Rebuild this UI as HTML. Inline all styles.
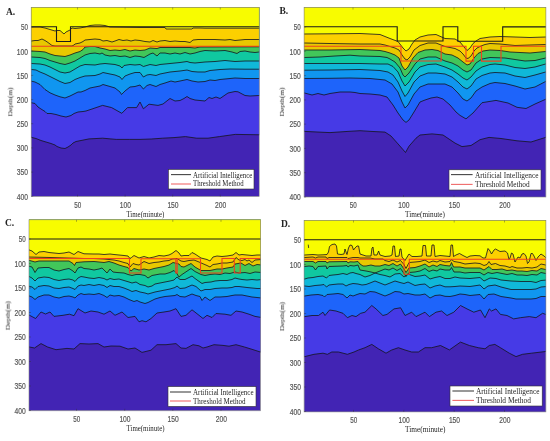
<!DOCTYPE html><html><head><meta charset="utf-8"><style>html,body{margin:0;padding:0;background:#fff;width:550px;height:441px;overflow:hidden}svg{display:block}.t{font-family:"Liberation Sans",sans-serif;fill:#555;stroke:#555;stroke-width:0.2px}text{opacity:0.99}.s{font-family:"Liberation Serif",serif;fill:#222}</style></head><body>
<svg width="550" height="441" viewBox="0 0 550 441">
<rect width="550" height="441" fill="#fff"/>
<filter id="gs" filterUnits="userSpaceOnUse" x="-600" y="-600" width="1800" height="1800"><feColorMatrix type="saturate" values="0"/></filter>
<clipPath id="cA"><rect x="31.2" y="7.5" width="228.0" height="189.1"/></clipPath>
<g clip-path="url(#cA)">
<rect x="31.2" y="7.5" width="228.0" height="189.1" fill="#4224b4"/>
<polygon points="30.2,137.0 36.0,138.5 41.0,140.5 46.0,142.0 51.0,143.5 55.0,145.0 57.0,146.5 61.0,148.0 65.0,148.5 68.0,147.0 71.0,145.0 73.0,143.0 76.0,141.5 81.0,140.5 86.0,139.5 89.0,138.9 102.6,138.2 116.2,139.4 129.8,139.4 140.0,139.4 151.3,139.0 162.7,138.2 174.0,137.6 185.4,136.6 196.7,138.2 208.0,138.2 219.4,136.6 235.2,134.4 260.2,134.8 260.2,6.5 30.2,6.5" fill="#463ae6"/>
<polygon points="30.2,102.5 35.0,103.5 38.0,107.0 41.0,109.0 45.0,111.5 47.0,113.5 51.0,113.5 56.0,114.5 61.0,116.0 66.0,117.0 71.0,115.5 74.0,113.5 78.0,112.0 83.0,111.5 86.0,111.0 92.0,109.0 102.6,105.4 111.6,107.6 121.8,113.3 127.5,107.6 136.6,107.6 140.0,102.0 143.4,108.8 149.0,104.2 158.0,105.4 163.0,104.0 170.0,98.5 175.0,101.0 180.0,100.5 184.0,98.5 187.0,96.5 190.0,98.5 195.0,100.0 200.0,100.5 205.0,101.0 209.0,97.5 212.0,98.5 216.0,97.0 220.0,98.5 228.0,93.0 235.0,91.5 238.0,91.8 245.0,95.5 250.0,96.0 259.0,95.5 260.2,95.5 260.2,6.5 30.2,6.5" fill="#1e64fa"/>
<polygon points="30.2,81.2 31.5,81.2 35.0,82.0 40.0,84.5 45.0,89.5 50.0,92.8 55.0,95.0 60.0,96.8 65.0,98.0 70.0,96.0 74.0,94.0 78.0,92.0 81.0,92.0 85.0,90.5 90.0,88.0 95.0,87.0 100.0,86.0 103.0,84.5 110.0,86.5 115.0,88.0 120.0,92.0 121.5,94.5 125.0,91.0 130.0,87.0 135.0,86.5 140.0,85.0 143.4,89.0 147.0,85.5 150.0,84.5 156.0,86.5 160.0,84.5 165.0,83.0 171.0,81.0 175.0,82.0 180.0,81.0 187.0,79.5 192.0,81.0 198.0,82.0 205.0,81.5 210.0,80.0 215.0,80.5 220.0,79.5 225.0,79.0 235.0,78.0 245.0,78.5 259.0,78.5 260.2,78.5 260.2,6.5 30.2,6.5" fill="#1096f0"/>
<polygon points="30.2,69.5 31.5,69.5 36.0,70.0 40.0,72.0 45.0,74.0 50.0,76.5 55.0,79.0 60.0,81.5 65.0,83.5 70.0,82.5 75.0,79.5 80.0,77.5 85.0,76.0 95.0,75.5 100.0,74.0 103.0,72.5 110.0,74.0 115.0,75.0 120.0,77.0 122.0,79.5 125.0,76.0 130.0,74.0 135.0,72.5 140.0,72.5 143.4,77.0 147.0,75.0 150.0,74.5 156.0,75.5 160.0,74.0 165.0,73.0 170.0,72.0 175.0,71.5 180.0,71.0 187.0,70.0 192.0,71.5 198.0,72.0 205.0,72.0 210.0,70.5 215.0,70.0 220.0,69.5 230.0,69.0 245.0,69.2 260.2,69.2 260.2,6.5 30.2,6.5" fill="#10b8d8"/>
<polygon points="30.2,63.5 31.5,63.5 40.0,64.0 45.0,65.0 50.0,67.0 55.0,69.5 60.0,72.0 65.0,73.0 70.0,72.0 75.0,69.0 80.0,66.0 85.0,64.5 95.0,65.0 100.0,64.0 105.0,63.5 110.0,64.0 115.0,64.5 120.0,66.0 122.0,68.0 124.0,65.5 130.0,64.5 135.0,65.0 140.0,64.5 143.4,66.5 150.0,64.5 156.0,65.5 160.0,64.5 170.0,63.5 180.0,62.5 187.0,61.5 190.0,62.5 195.0,63.0 205.0,62.0 215.0,61.5 225.0,60.5 235.0,61.5 245.0,61.0 259.0,61.0 260.2,61.0 260.2,6.5 30.2,6.5" fill="#10c8a0"/>
<polygon points="30.2,57.0 31.5,57.0 40.0,57.5 45.0,58.5 50.0,60.5 55.0,62.0 60.0,63.5 65.0,64.5 70.0,63.0 75.0,61.0 80.0,58.0 85.0,55.0 90.0,53.5 95.0,53.0 100.0,54.0 102.0,53.0 105.0,55.0 110.0,56.0 115.0,55.5 120.0,56.5 125.0,56.0 130.0,57.5 135.0,56.0 140.0,56.5 144.0,57.5 150.0,54.0 153.0,53.0 157.0,56.0 160.0,53.0 165.0,53.0 170.0,54.0 175.0,53.0 180.0,54.0 185.0,52.5 190.0,54.0 195.0,53.0 200.0,51.5 205.0,50.5 215.0,51.0 225.0,50.5 232.0,52.0 237.0,53.5 240.0,51.5 245.0,51.0 250.0,52.0 255.0,52.5 259.0,52.0 260.2,52.0 260.2,6.5 30.2,6.5" fill="#42c65a"/>
<polygon points="30.2,51.0 31.5,51.0 40.0,51.5 45.0,52.0 50.0,54.0 55.0,55.5 60.0,56.0 65.0,56.5 70.0,55.0 75.0,53.0 80.0,51.5 83.0,49.5 85.0,47.0 90.0,46.5 95.0,46.5 100.0,48.0 105.0,49.0 110.0,50.5 115.0,50.0 120.0,50.5 125.0,49.5 130.0,51.0 135.0,50.0 140.0,50.5 145.0,50.0 150.0,48.0 157.0,48.5 160.0,47.5 190.0,47.5 195.0,48.0 200.0,47.0 259.0,46.8 260.2,46.8 260.2,6.5 30.2,6.5" fill="#e8c800"/>
<polygon points="30.2,41.0 31.5,41.0 35.0,40.5 38.0,40.5 42.0,39.0 45.0,40.5 48.0,42.5 50.0,44.0 52.0,45.5 55.0,46.0 72.0,46.0 74.0,45.0 75.0,44.0 80.0,43.0 83.0,41.5 85.0,40.0 90.0,39.5 95.0,39.0 100.0,39.5 103.0,41.0 107.0,40.5 112.0,42.0 115.0,41.0 119.0,39.5 123.0,40.5 127.0,40.0 131.0,41.0 135.0,40.0 140.0,40.5 145.0,41.5 150.0,42.0 153.0,40.5 157.0,42.0 160.0,41.0 165.0,40.5 170.0,41.5 175.0,41.0 180.0,41.5 185.0,41.5 190.0,42.5 193.0,40.0 198.0,39.5 205.0,39.5 215.0,39.5 225.0,40.0 230.0,39.5 235.0,40.5 245.0,39.5 259.0,39.5 260.2,39.5 260.2,6.5 30.2,6.5" fill="#fcd000"/>
<polygon points="30.2,27.0 31.5,27.0 40.0,27.0 45.0,28.0 50.0,29.5 55.0,31.0 56.5,30.5 60.0,30.5 64.0,34.0 66.0,32.0 68.0,31.0 70.0,30.0 72.0,28.0 75.0,28.5 80.0,28.0 85.0,27.0 90.0,25.5 95.0,25.0 100.0,25.0 105.0,25.5 110.0,27.0 140.0,27.5 150.0,27.5 165.0,27.5 166.0,29.0 192.0,29.0 193.0,28.0 200.0,28.0 205.0,28.2 259.0,28.2 260.2,28.2 260.2,6.5 30.2,6.5" fill="#f8fc00"/>
<polyline points="30.2,27.0 31.5,27.0 40.0,27.0 45.0,28.0 50.0,29.5 55.0,31.0 56.5,30.5 60.0,30.5 64.0,34.0 66.0,32.0 68.0,31.0 70.0,30.0 72.0,28.0 75.0,28.5 80.0,28.0 85.0,27.0 90.0,25.5 95.0,25.0 100.0,25.0 105.0,25.5 110.0,27.0 140.0,27.5 150.0,27.5 165.0,27.5 166.0,29.0 192.0,29.0 193.0,28.0 200.0,28.0 205.0,28.2 259.0,28.2 260.2,28.2" fill="none" stroke="#15151f" stroke-opacity="0.9" stroke-width="0.90" stroke-linejoin="round"/>
<polyline points="30.2,41.0 31.5,41.0 35.0,40.5 38.0,40.5 42.0,39.0 45.0,40.5 48.0,42.5 50.0,44.0 52.0,45.5 55.0,46.0 72.0,46.0 74.0,45.0 75.0,44.0 80.0,43.0 83.0,41.5 85.0,40.0 90.0,39.5 95.0,39.0 100.0,39.5 103.0,41.0 107.0,40.5 112.0,42.0 115.0,41.0 119.0,39.5 123.0,40.5 127.0,40.0 131.0,41.0 135.0,40.0 140.0,40.5 145.0,41.5 150.0,42.0 153.0,40.5 157.0,42.0 160.0,41.0 165.0,40.5 170.0,41.5 175.0,41.0 180.0,41.5 185.0,41.5 190.0,42.5 193.0,40.0 198.0,39.5 205.0,39.5 215.0,39.5 225.0,40.0 230.0,39.5 235.0,40.5 245.0,39.5 259.0,39.5 260.2,39.5" fill="none" stroke="#15151f" stroke-opacity="0.9" stroke-width="0.90" stroke-linejoin="round"/>
<polyline points="30.2,51.0 31.5,51.0 40.0,51.5 45.0,52.0 50.0,54.0 55.0,55.5 60.0,56.0 65.0,56.5 70.0,55.0 75.0,53.0 80.0,51.5 83.0,49.5 85.0,47.0 90.0,46.5 95.0,46.5 100.0,48.0 105.0,49.0 110.0,50.5 115.0,50.0 120.0,50.5 125.0,49.5 130.0,51.0 135.0,50.0 140.0,50.5 145.0,50.0 150.0,48.0 157.0,48.5 160.0,47.5 190.0,47.5 195.0,48.0 200.0,47.0 259.0,46.8 260.2,46.8" fill="none" stroke="#15151f" stroke-opacity="0.9" stroke-width="0.90" stroke-linejoin="round"/>
<polyline points="30.2,57.0 31.5,57.0 40.0,57.5 45.0,58.5 50.0,60.5 55.0,62.0 60.0,63.5 65.0,64.5 70.0,63.0 75.0,61.0 80.0,58.0 85.0,55.0 90.0,53.5 95.0,53.0 100.0,54.0 102.0,53.0 105.0,55.0 110.0,56.0 115.0,55.5 120.0,56.5 125.0,56.0 130.0,57.5 135.0,56.0 140.0,56.5 144.0,57.5 150.0,54.0 153.0,53.0 157.0,56.0 160.0,53.0 165.0,53.0 170.0,54.0 175.0,53.0 180.0,54.0 185.0,52.5 190.0,54.0 195.0,53.0 200.0,51.5 205.0,50.5 215.0,51.0 225.0,50.5 232.0,52.0 237.0,53.5 240.0,51.5 245.0,51.0 250.0,52.0 255.0,52.5 259.0,52.0 260.2,52.0" fill="none" stroke="#15151f" stroke-opacity="0.9" stroke-width="0.90" stroke-linejoin="round"/>
<polyline points="30.2,63.5 31.5,63.5 40.0,64.0 45.0,65.0 50.0,67.0 55.0,69.5 60.0,72.0 65.0,73.0 70.0,72.0 75.0,69.0 80.0,66.0 85.0,64.5 95.0,65.0 100.0,64.0 105.0,63.5 110.0,64.0 115.0,64.5 120.0,66.0 122.0,68.0 124.0,65.5 130.0,64.5 135.0,65.0 140.0,64.5 143.4,66.5 150.0,64.5 156.0,65.5 160.0,64.5 170.0,63.5 180.0,62.5 187.0,61.5 190.0,62.5 195.0,63.0 205.0,62.0 215.0,61.5 225.0,60.5 235.0,61.5 245.0,61.0 259.0,61.0 260.2,61.0" fill="none" stroke="#15151f" stroke-opacity="0.9" stroke-width="0.90" stroke-linejoin="round"/>
<polyline points="30.2,69.5 31.5,69.5 36.0,70.0 40.0,72.0 45.0,74.0 50.0,76.5 55.0,79.0 60.0,81.5 65.0,83.5 70.0,82.5 75.0,79.5 80.0,77.5 85.0,76.0 95.0,75.5 100.0,74.0 103.0,72.5 110.0,74.0 115.0,75.0 120.0,77.0 122.0,79.5 125.0,76.0 130.0,74.0 135.0,72.5 140.0,72.5 143.4,77.0 147.0,75.0 150.0,74.5 156.0,75.5 160.0,74.0 165.0,73.0 170.0,72.0 175.0,71.5 180.0,71.0 187.0,70.0 192.0,71.5 198.0,72.0 205.0,72.0 210.0,70.5 215.0,70.0 220.0,69.5 230.0,69.0 245.0,69.2 260.2,69.2" fill="none" stroke="#15151f" stroke-opacity="0.9" stroke-width="0.90" stroke-linejoin="round"/>
<polyline points="30.2,81.2 31.5,81.2 35.0,82.0 40.0,84.5 45.0,89.5 50.0,92.8 55.0,95.0 60.0,96.8 65.0,98.0 70.0,96.0 74.0,94.0 78.0,92.0 81.0,92.0 85.0,90.5 90.0,88.0 95.0,87.0 100.0,86.0 103.0,84.5 110.0,86.5 115.0,88.0 120.0,92.0 121.5,94.5 125.0,91.0 130.0,87.0 135.0,86.5 140.0,85.0 143.4,89.0 147.0,85.5 150.0,84.5 156.0,86.5 160.0,84.5 165.0,83.0 171.0,81.0 175.0,82.0 180.0,81.0 187.0,79.5 192.0,81.0 198.0,82.0 205.0,81.5 210.0,80.0 215.0,80.5 220.0,79.5 225.0,79.0 235.0,78.0 245.0,78.5 259.0,78.5 260.2,78.5" fill="none" stroke="#15151f" stroke-opacity="0.9" stroke-width="0.90" stroke-linejoin="round"/>
<polyline points="30.2,102.5 35.0,103.5 38.0,107.0 41.0,109.0 45.0,111.5 47.0,113.5 51.0,113.5 56.0,114.5 61.0,116.0 66.0,117.0 71.0,115.5 74.0,113.5 78.0,112.0 83.0,111.5 86.0,111.0 92.0,109.0 102.6,105.4 111.6,107.6 121.8,113.3 127.5,107.6 136.6,107.6 140.0,102.0 143.4,108.8 149.0,104.2 158.0,105.4 163.0,104.0 170.0,98.5 175.0,101.0 180.0,100.5 184.0,98.5 187.0,96.5 190.0,98.5 195.0,100.0 200.0,100.5 205.0,101.0 209.0,97.5 212.0,98.5 216.0,97.0 220.0,98.5 228.0,93.0 235.0,91.5 238.0,91.8 245.0,95.5 250.0,96.0 259.0,95.5 260.2,95.5" fill="none" stroke="#15151f" stroke-opacity="0.9" stroke-width="0.90" stroke-linejoin="round"/>
<polyline points="30.2,137.0 36.0,138.5 41.0,140.5 46.0,142.0 51.0,143.5 55.0,145.0 57.0,146.5 61.0,148.0 65.0,148.5 68.0,147.0 71.0,145.0 73.0,143.0 76.0,141.5 81.0,140.5 86.0,139.5 89.0,138.9 102.6,138.2 116.2,139.4 129.8,139.4 140.0,139.4 151.3,139.0 162.7,138.2 174.0,137.6 185.4,136.6 196.7,138.2 208.0,138.2 219.4,136.6 235.2,134.4 260.2,134.8" fill="none" stroke="#15151f" stroke-opacity="0.9" stroke-width="0.90" stroke-linejoin="round"/>
<polyline points="31.0,46.2 260.0,46.2" fill="none" stroke="#f0401e" stroke-width="1.1"/>
<polyline points="31.0,26.8 56.5,26.8 56.5,41.5 70.5,41.5 70.5,26.8 260.0,26.8" fill="none" stroke="#1a1a1a" stroke-width="1.1"/>
</g>
<rect x="31.2" y="7.5" width="228.0" height="189.1" fill="none" stroke="#808080" stroke-width="0.6"/>
<rect x="168.4" y="169.4" width="85.6" height="19.6" fill="#fff" stroke="#333" stroke-width="0.6"/>
<line x1="171.0" y1="174.6" x2="191.0" y2="174.6" stroke="#444" stroke-width="1.1"/>
<line x1="171.0" y1="184.0" x2="191.0" y2="184.0" stroke="#f06a6a" stroke-width="1.1"/>
<text filter="url(#gs)" class="s" x="193.0" y="177.8" font-size="7.2" textLength="59.4" lengthAdjust="spacingAndGlyphs">Artificial Intelligence</text>
<text filter="url(#gs)" class="s" x="193.0" y="186.4" font-size="7.2" textLength="50.6" lengthAdjust="spacingAndGlyphs">Threshold Method</text>
<text filter="url(#gs)" class="t" x="21.0" y="30.3" font-size="8.5" textLength="7.0" lengthAdjust="spacingAndGlyphs">50</text>
<line x1="31.2" y1="27.0" x2="33.2" y2="27.0" stroke="#333" stroke-width="0.4"/>
<text filter="url(#gs)" class="t" x="16.8" y="54.5" font-size="8.5" textLength="11.2" lengthAdjust="spacingAndGlyphs">100</text>
<line x1="31.2" y1="51.2" x2="33.2" y2="51.2" stroke="#333" stroke-width="0.4"/>
<text filter="url(#gs)" class="t" x="16.8" y="78.7" font-size="8.5" textLength="11.2" lengthAdjust="spacingAndGlyphs">150</text>
<line x1="31.2" y1="75.4" x2="33.2" y2="75.4" stroke="#333" stroke-width="0.4"/>
<text filter="url(#gs)" class="t" x="16.8" y="102.9" font-size="8.5" textLength="11.2" lengthAdjust="spacingAndGlyphs">200</text>
<line x1="31.2" y1="99.6" x2="33.2" y2="99.6" stroke="#333" stroke-width="0.4"/>
<text filter="url(#gs)" class="t" x="16.8" y="127.0" font-size="8.5" textLength="11.2" lengthAdjust="spacingAndGlyphs">250</text>
<line x1="31.2" y1="123.7" x2="33.2" y2="123.7" stroke="#333" stroke-width="0.4"/>
<text filter="url(#gs)" class="t" x="16.8" y="151.2" font-size="8.5" textLength="11.2" lengthAdjust="spacingAndGlyphs">300</text>
<line x1="31.2" y1="147.9" x2="33.2" y2="147.9" stroke="#333" stroke-width="0.4"/>
<text filter="url(#gs)" class="t" x="16.8" y="175.4" font-size="8.5" textLength="11.2" lengthAdjust="spacingAndGlyphs">350</text>
<line x1="31.2" y1="172.1" x2="33.2" y2="172.1" stroke="#333" stroke-width="0.4"/>
<text filter="url(#gs)" class="t" x="16.8" y="199.6" font-size="8.5" textLength="11.2" lengthAdjust="spacingAndGlyphs">400</text>
<line x1="31.2" y1="196.3" x2="33.2" y2="196.3" stroke="#333" stroke-width="0.4"/>
<text filter="url(#gs)" class="t" x="74.3" y="207.6" font-size="8.5" textLength="7.0" lengthAdjust="spacingAndGlyphs">50</text>
<line x1="77.5" y1="196.6" x2="77.5" y2="194.6" stroke="#333" stroke-width="0.4"/>
<line x1="77.5" y1="7.5" x2="77.5" y2="9.5" stroke="#333" stroke-width="0.4"/>
<text filter="url(#gs)" class="t" x="119.8" y="207.6" font-size="8.5" textLength="11.2" lengthAdjust="spacingAndGlyphs">100</text>
<line x1="125.1" y1="196.6" x2="125.1" y2="194.6" stroke="#333" stroke-width="0.4"/>
<line x1="125.1" y1="7.5" x2="125.1" y2="9.5" stroke="#333" stroke-width="0.4"/>
<text filter="url(#gs)" class="t" x="167.4" y="207.6" font-size="8.5" textLength="11.2" lengthAdjust="spacingAndGlyphs">150</text>
<line x1="172.7" y1="196.6" x2="172.7" y2="194.6" stroke="#333" stroke-width="0.4"/>
<line x1="172.7" y1="7.5" x2="172.7" y2="9.5" stroke="#333" stroke-width="0.4"/>
<text filter="url(#gs)" class="t" x="215.0" y="207.6" font-size="8.5" textLength="11.2" lengthAdjust="spacingAndGlyphs">200</text>
<line x1="220.3" y1="196.6" x2="220.3" y2="194.6" stroke="#333" stroke-width="0.4"/>
<line x1="220.3" y1="7.5" x2="220.3" y2="9.5" stroke="#333" stroke-width="0.4"/>
<text filter="url(#gs)" class="s" x="126.4" y="217.3" font-size="8.0" textLength="38.0" lengthAdjust="spacingAndGlyphs" fill="#3a3a3a">Time(minute)</text>
<text filter="url(#gs)" class="s" transform="translate(12.3,101.8) rotate(-90)" x="0" y="0" font-size="6.9" fill="#3a3a3a" text-anchor="middle" textLength="29.0" lengthAdjust="spacingAndGlyphs">Depth(m)</text>
<text filter="url(#gs)" class="s" x="6.0" y="15.2" font-size="9.5" font-weight="bold" fill="#111">A.</text>
<clipPath id="cB"><rect x="304.1" y="7.5" width="241.8" height="189.5"/></clipPath>
<g clip-path="url(#cB)">
<rect x="304.1" y="7.5" width="241.8" height="189.5" fill="#4224b4"/>
<polygon points="303.1,131.4 304.5,131.4 317.0,132.0 330.0,132.6 348.0,131.4 360.0,130.7 371.0,131.4 385.0,132.1 391.0,136.0 398.0,143.9 403.0,149.6 405.5,152.5 409.0,146.2 416.0,138.2 420.0,135.0 432.0,133.9 443.0,135.0 455.0,143.1 462.0,146.6 471.0,145.5 480.0,139.7 489.0,137.4 501.0,138.5 517.0,140.8 531.0,142.0 545.6,137.4 546.9,137.4 546.9,6.5 303.1,6.5" fill="#463ae6"/>
<polygon points="303.1,93.0 304.5,93.0 312.0,95.0 318.0,93.5 324.0,95.0 330.0,93.5 340.0,92.0 350.0,92.0 355.0,92.5 360.0,93.5 370.0,94.0 380.0,95.0 387.0,97.0 393.0,105.0 398.0,113.0 403.0,120.0 406.0,122.4 409.0,120.0 414.0,112.0 420.0,102.0 425.0,100.0 431.0,98.0 437.0,97.0 443.0,99.0 450.0,105.0 456.0,112.0 460.0,115.4 466.0,118.9 473.0,113.0 482.0,102.7 496.0,100.4 508.0,103.0 517.0,107.3 526.0,108.5 535.0,104.0 545.6,99.3 546.9,99.3 546.9,6.5 303.1,6.5" fill="#1e64fa"/>
<polygon points="303.1,78.5 304.5,78.5 330.0,78.3 350.0,78.0 370.0,78.5 385.0,80.0 392.0,84.0 398.0,92.0 402.0,102.0 405.0,108.0 408.0,105.0 414.0,94.0 420.0,87.0 428.0,84.0 436.0,84.0 445.0,84.0 452.0,87.0 458.0,93.0 463.0,99.0 467.0,101.0 471.0,98.0 476.0,91.0 482.0,87.0 490.0,83.5 495.0,82.5 505.0,83.5 515.0,86.0 525.0,89.0 535.0,87.0 545.6,81.5 546.9,81.5 546.9,6.5 303.1,6.5" fill="#1096f0"/>
<polygon points="303.1,70.2 304.5,70.2 330.0,70.0 360.0,69.5 380.0,70.5 388.0,72.0 393.0,75.0 398.0,82.0 402.0,91.0 405.0,96.5 408.0,93.0 414.0,82.0 420.0,76.0 428.0,73.0 436.0,73.0 445.0,74.0 452.0,77.0 458.0,82.0 463.0,87.0 467.0,89.0 471.0,86.0 476.0,79.0 482.0,75.5 490.0,73.0 495.0,72.5 505.0,73.0 515.0,76.0 525.0,77.5 535.0,75.0 545.6,72.0 546.9,72.0 546.9,6.5 303.1,6.5" fill="#10b8d8"/>
<polygon points="303.1,63.5 304.5,63.5 330.0,63.5 360.0,63.5 380.0,64.0 388.0,64.0 393.0,66.5 398.0,72.0 402.0,81.0 405.0,86.0 409.0,82.0 415.0,72.0 420.0,67.0 428.0,64.5 436.0,64.0 445.0,67.0 452.0,70.0 458.0,74.0 463.0,78.0 467.0,80.0 471.0,77.0 476.0,71.0 482.0,67.0 490.0,64.5 495.0,64.0 505.0,65.0 515.0,67.5 525.0,68.5 535.0,67.0 545.6,64.0 546.9,64.0 546.9,6.5 303.1,6.5" fill="#10c8a0"/>
<polygon points="303.1,57.5 304.5,57.5 320.0,57.0 335.0,56.0 350.0,55.2 360.0,56.0 380.0,56.5 387.0,57.5 390.0,59.0 395.0,62.0 400.0,68.0 403.0,75.0 405.0,77.0 409.0,73.0 415.0,64.0 420.0,59.0 428.0,57.0 436.0,57.0 445.0,61.0 452.0,63.0 458.0,66.0 463.0,70.0 467.0,72.0 471.0,70.0 476.0,63.0 482.0,59.0 490.0,57.5 505.0,58.0 515.0,59.5 525.0,61.0 535.0,60.5 545.6,58.0 546.9,58.0 546.9,6.5 303.1,6.5" fill="#42c65a"/>
<polygon points="303.1,50.0 304.5,50.0 330.0,50.0 360.0,49.5 380.0,50.5 385.0,51.5 390.0,53.0 395.0,55.0 399.0,58.0 402.0,66.0 405.0,70.0 408.0,67.0 413.0,58.0 418.0,52.5 425.0,50.0 432.0,49.5 438.0,50.5 445.0,54.0 452.0,55.0 458.0,58.0 463.0,62.0 467.0,65.0 470.0,64.0 474.0,58.0 478.0,53.5 483.0,51.0 490.0,50.0 500.0,50.5 510.0,52.0 520.0,52.5 530.0,53.0 545.6,51.5 546.9,51.5 546.9,6.5 303.1,6.5" fill="#e8c800"/>
<polygon points="303.1,43.0 304.5,43.0 330.0,43.5 360.0,44.0 380.0,44.0 385.0,45.0 390.0,46.5 395.0,48.0 399.0,50.0 402.0,55.0 405.0,59.0 407.0,60.0 410.0,57.0 414.0,50.0 420.0,45.5 428.0,43.0 436.0,43.0 445.0,46.5 450.0,47.5 455.0,48.5 460.0,51.0 463.0,54.0 466.0,58.0 468.0,58.5 471.0,56.0 474.0,51.0 477.0,48.0 481.0,46.0 485.0,44.5 490.0,43.5 500.0,44.0 515.0,45.5 530.0,45.0 545.6,44.5 546.9,44.5 546.9,6.5 303.1,6.5" fill="#fcd000"/>
<polygon points="303.1,34.0 304.5,34.0 330.0,33.8 360.0,33.5 380.0,34.5 390.0,38.5 398.0,41.5 403.0,48.0 406.0,51.0 409.0,49.0 412.0,44.0 415.0,40.0 420.0,37.0 428.0,35.0 436.0,34.5 445.0,38.5 455.0,39.0 460.0,42.0 464.0,47.0 467.0,50.5 470.0,48.0 473.0,43.5 476.0,41.0 480.0,38.5 490.0,37.0 500.0,36.5 515.0,37.0 530.0,37.5 545.6,37.0 546.9,37.0 546.9,6.5 303.1,6.5" fill="#f8fc00"/>
<polyline points="303.1,34.0 304.5,34.0 330.0,33.8 360.0,33.5 380.0,34.5 390.0,38.5 398.0,41.5 403.0,48.0 406.0,51.0 409.0,49.0 412.0,44.0 415.0,40.0 420.0,37.0 428.0,35.0 436.0,34.5 445.0,38.5 455.0,39.0 460.0,42.0 464.0,47.0 467.0,50.5 470.0,48.0 473.0,43.5 476.0,41.0 480.0,38.5 490.0,37.0 500.0,36.5 515.0,37.0 530.0,37.5 545.6,37.0 546.9,37.0" fill="none" stroke="#15151f" stroke-opacity="0.9" stroke-width="0.90" stroke-linejoin="round"/>
<polyline points="303.1,43.0 304.5,43.0 330.0,43.5 360.0,44.0 380.0,44.0 385.0,45.0 390.0,46.5 395.0,48.0 399.0,50.0 402.0,55.0 405.0,59.0 407.0,60.0 410.0,57.0 414.0,50.0 420.0,45.5 428.0,43.0 436.0,43.0 445.0,46.5 450.0,47.5 455.0,48.5 460.0,51.0 463.0,54.0 466.0,58.0 468.0,58.5 471.0,56.0 474.0,51.0 477.0,48.0 481.0,46.0 485.0,44.5 490.0,43.5 500.0,44.0 515.0,45.5 530.0,45.0 545.6,44.5 546.9,44.5" fill="none" stroke="#15151f" stroke-opacity="0.9" stroke-width="0.90" stroke-linejoin="round"/>
<polyline points="303.1,50.0 304.5,50.0 330.0,50.0 360.0,49.5 380.0,50.5 385.0,51.5 390.0,53.0 395.0,55.0 399.0,58.0 402.0,66.0 405.0,70.0 408.0,67.0 413.0,58.0 418.0,52.5 425.0,50.0 432.0,49.5 438.0,50.5 445.0,54.0 452.0,55.0 458.0,58.0 463.0,62.0 467.0,65.0 470.0,64.0 474.0,58.0 478.0,53.5 483.0,51.0 490.0,50.0 500.0,50.5 510.0,52.0 520.0,52.5 530.0,53.0 545.6,51.5 546.9,51.5" fill="none" stroke="#15151f" stroke-opacity="0.9" stroke-width="0.90" stroke-linejoin="round"/>
<polyline points="303.1,57.5 304.5,57.5 320.0,57.0 335.0,56.0 350.0,55.2 360.0,56.0 380.0,56.5 387.0,57.5 390.0,59.0 395.0,62.0 400.0,68.0 403.0,75.0 405.0,77.0 409.0,73.0 415.0,64.0 420.0,59.0 428.0,57.0 436.0,57.0 445.0,61.0 452.0,63.0 458.0,66.0 463.0,70.0 467.0,72.0 471.0,70.0 476.0,63.0 482.0,59.0 490.0,57.5 505.0,58.0 515.0,59.5 525.0,61.0 535.0,60.5 545.6,58.0 546.9,58.0" fill="none" stroke="#15151f" stroke-opacity="0.9" stroke-width="0.90" stroke-linejoin="round"/>
<polyline points="303.1,63.5 304.5,63.5 330.0,63.5 360.0,63.5 380.0,64.0 388.0,64.0 393.0,66.5 398.0,72.0 402.0,81.0 405.0,86.0 409.0,82.0 415.0,72.0 420.0,67.0 428.0,64.5 436.0,64.0 445.0,67.0 452.0,70.0 458.0,74.0 463.0,78.0 467.0,80.0 471.0,77.0 476.0,71.0 482.0,67.0 490.0,64.5 495.0,64.0 505.0,65.0 515.0,67.5 525.0,68.5 535.0,67.0 545.6,64.0 546.9,64.0" fill="none" stroke="#15151f" stroke-opacity="0.9" stroke-width="0.90" stroke-linejoin="round"/>
<polyline points="303.1,70.2 304.5,70.2 330.0,70.0 360.0,69.5 380.0,70.5 388.0,72.0 393.0,75.0 398.0,82.0 402.0,91.0 405.0,96.5 408.0,93.0 414.0,82.0 420.0,76.0 428.0,73.0 436.0,73.0 445.0,74.0 452.0,77.0 458.0,82.0 463.0,87.0 467.0,89.0 471.0,86.0 476.0,79.0 482.0,75.5 490.0,73.0 495.0,72.5 505.0,73.0 515.0,76.0 525.0,77.5 535.0,75.0 545.6,72.0 546.9,72.0" fill="none" stroke="#15151f" stroke-opacity="0.9" stroke-width="0.90" stroke-linejoin="round"/>
<polyline points="303.1,78.5 304.5,78.5 330.0,78.3 350.0,78.0 370.0,78.5 385.0,80.0 392.0,84.0 398.0,92.0 402.0,102.0 405.0,108.0 408.0,105.0 414.0,94.0 420.0,87.0 428.0,84.0 436.0,84.0 445.0,84.0 452.0,87.0 458.0,93.0 463.0,99.0 467.0,101.0 471.0,98.0 476.0,91.0 482.0,87.0 490.0,83.5 495.0,82.5 505.0,83.5 515.0,86.0 525.0,89.0 535.0,87.0 545.6,81.5 546.9,81.5" fill="none" stroke="#15151f" stroke-opacity="0.9" stroke-width="0.90" stroke-linejoin="round"/>
<polyline points="303.1,93.0 304.5,93.0 312.0,95.0 318.0,93.5 324.0,95.0 330.0,93.5 340.0,92.0 350.0,92.0 355.0,92.5 360.0,93.5 370.0,94.0 380.0,95.0 387.0,97.0 393.0,105.0 398.0,113.0 403.0,120.0 406.0,122.4 409.0,120.0 414.0,112.0 420.0,102.0 425.0,100.0 431.0,98.0 437.0,97.0 443.0,99.0 450.0,105.0 456.0,112.0 460.0,115.4 466.0,118.9 473.0,113.0 482.0,102.7 496.0,100.4 508.0,103.0 517.0,107.3 526.0,108.5 535.0,104.0 545.6,99.3 546.9,99.3" fill="none" stroke="#15151f" stroke-opacity="0.9" stroke-width="0.90" stroke-linejoin="round"/>
<polyline points="303.1,131.4 304.5,131.4 317.0,132.0 330.0,132.6 348.0,131.4 360.0,130.7 371.0,131.4 385.0,132.1 391.0,136.0 398.0,143.9 403.0,149.6 405.5,152.5 409.0,146.2 416.0,138.2 420.0,135.0 432.0,133.9 443.0,135.0 455.0,143.1 462.0,146.6 471.0,145.5 480.0,139.7 489.0,137.4 501.0,138.5 517.0,140.8 531.0,142.0 545.6,137.4 546.9,137.4" fill="none" stroke="#15151f" stroke-opacity="0.9" stroke-width="0.90" stroke-linejoin="round"/>
<polyline points="304.0,46.2 401.0,46.2 401.0,61.0 441.2,61.0 441.2,46.3 466.0,46.3 466.0,61.1 473.5,61.1 473.5,46.3 481.5,46.3 481.5,61.1 501.0,61.1 501.0,46.2 546.0,46.2" fill="none" stroke="#f0401e" stroke-width="1.1"/>
<polyline points="304.0,26.8 397.2,26.8 397.2,41.0 443.0,41.0 443.0,26.8 457.8,26.8 457.8,41.2 502.7,41.2 502.7,26.9 546.0,26.9" fill="none" stroke="#1a1a1a" stroke-width="1.1"/>
</g>
<rect x="304.1" y="7.5" width="241.8" height="189.5" fill="none" stroke="#808080" stroke-width="0.6"/>
<rect x="449.0" y="169.8" width="92.0" height="20.2" fill="#fff" stroke="#333" stroke-width="0.6"/>
<line x1="451.0" y1="174.6" x2="472.6" y2="174.6" stroke="#444" stroke-width="1.1"/>
<line x1="451.0" y1="184.4" x2="472.6" y2="184.4" stroke="#f06a6a" stroke-width="1.1"/>
<text filter="url(#gs)" class="s" x="475.0" y="177.8" font-size="7.2" textLength="63.4" lengthAdjust="spacingAndGlyphs">Artificial Intelligence</text>
<text filter="url(#gs)" class="s" x="475.0" y="186.8" font-size="7.2" textLength="54.6" lengthAdjust="spacingAndGlyphs">Threshold Method</text>
<text filter="url(#gs)" class="t" x="293.7" y="30.3" font-size="8.5" textLength="7.0" lengthAdjust="spacingAndGlyphs">50</text>
<line x1="304.1" y1="27.0" x2="306.1" y2="27.0" stroke="#333" stroke-width="0.4"/>
<text filter="url(#gs)" class="t" x="289.5" y="54.6" font-size="8.5" textLength="11.2" lengthAdjust="spacingAndGlyphs">100</text>
<line x1="304.1" y1="51.3" x2="306.1" y2="51.3" stroke="#333" stroke-width="0.4"/>
<text filter="url(#gs)" class="t" x="289.5" y="78.9" font-size="8.5" textLength="11.2" lengthAdjust="spacingAndGlyphs">150</text>
<line x1="304.1" y1="75.6" x2="306.1" y2="75.6" stroke="#333" stroke-width="0.4"/>
<text filter="url(#gs)" class="t" x="289.5" y="103.2" font-size="8.5" textLength="11.2" lengthAdjust="spacingAndGlyphs">200</text>
<line x1="304.1" y1="99.9" x2="306.1" y2="99.9" stroke="#333" stroke-width="0.4"/>
<text filter="url(#gs)" class="t" x="289.5" y="127.4" font-size="8.5" textLength="11.2" lengthAdjust="spacingAndGlyphs">250</text>
<line x1="304.1" y1="124.1" x2="306.1" y2="124.1" stroke="#333" stroke-width="0.4"/>
<text filter="url(#gs)" class="t" x="289.5" y="151.7" font-size="8.5" textLength="11.2" lengthAdjust="spacingAndGlyphs">300</text>
<line x1="304.1" y1="148.4" x2="306.1" y2="148.4" stroke="#333" stroke-width="0.4"/>
<text filter="url(#gs)" class="t" x="289.5" y="176.0" font-size="8.5" textLength="11.2" lengthAdjust="spacingAndGlyphs">350</text>
<line x1="304.1" y1="172.7" x2="306.1" y2="172.7" stroke="#333" stroke-width="0.4"/>
<text filter="url(#gs)" class="t" x="289.5" y="200.3" font-size="8.5" textLength="11.2" lengthAdjust="spacingAndGlyphs">400</text>
<line x1="304.1" y1="197.0" x2="306.1" y2="197.0" stroke="#333" stroke-width="0.4"/>
<text filter="url(#gs)" class="t" x="349.8" y="208.1" font-size="8.5" textLength="7.0" lengthAdjust="spacingAndGlyphs">50</text>
<line x1="353.0" y1="197.0" x2="353.0" y2="195.0" stroke="#333" stroke-width="0.4"/>
<line x1="353.0" y1="7.5" x2="353.0" y2="9.5" stroke="#333" stroke-width="0.4"/>
<text filter="url(#gs)" class="t" x="398.2" y="208.1" font-size="8.5" textLength="11.2" lengthAdjust="spacingAndGlyphs">100</text>
<line x1="403.5" y1="197.0" x2="403.5" y2="195.0" stroke="#333" stroke-width="0.4"/>
<line x1="403.5" y1="7.5" x2="403.5" y2="9.5" stroke="#333" stroke-width="0.4"/>
<text filter="url(#gs)" class="t" x="448.7" y="208.1" font-size="8.5" textLength="11.2" lengthAdjust="spacingAndGlyphs">150</text>
<line x1="454.0" y1="197.0" x2="454.0" y2="195.0" stroke="#333" stroke-width="0.4"/>
<line x1="454.0" y1="7.5" x2="454.0" y2="9.5" stroke="#333" stroke-width="0.4"/>
<text filter="url(#gs)" class="t" x="499.2" y="208.1" font-size="8.5" textLength="11.2" lengthAdjust="spacingAndGlyphs">200</text>
<line x1="504.5" y1="197.0" x2="504.5" y2="195.0" stroke="#333" stroke-width="0.4"/>
<line x1="504.5" y1="7.5" x2="504.5" y2="9.5" stroke="#333" stroke-width="0.4"/>
<text filter="url(#gs)" class="s" x="405.0" y="217.2" font-size="7.2" textLength="40.0" lengthAdjust="spacingAndGlyphs" fill="#3a3a3a">Time(minute)</text>
<text filter="url(#gs)" class="s" transform="translate(283.9,101.8) rotate(-90)" x="0" y="0" font-size="6.9" fill="#3a3a3a" text-anchor="middle" textLength="29.0" lengthAdjust="spacingAndGlyphs">Depth(m)</text>
<text filter="url(#gs)" class="s" x="279.5" y="13.8" font-size="9.5" font-weight="bold" fill="#111">B.</text>
<clipPath id="cC"><rect x="29.0" y="219.8" width="231.6" height="191.0"/></clipPath>
<g clip-path="url(#cC)">
<rect x="29.0" y="219.8" width="231.6" height="191.0" fill="#4224b4"/>
<polygon points="28.0,347.0 29.5,347.0 34.5,348.0 41.0,343.6 47.6,347.0 56.0,349.7 67.0,348.4 74.0,349.0 80.0,343.6 89.0,344.0 98.0,343.6 104.0,347.0 111.0,346.0 120.0,346.2 128.0,349.0 135.0,348.0 142.0,352.4 151.0,350.2 157.0,344.7 166.0,344.7 176.0,343.6 181.0,348.0 186.0,348.4 193.0,344.7 199.0,345.8 203.0,348.0 207.0,347.0 214.0,344.7 223.0,345.4 229.0,346.2 236.0,344.7 244.5,347.0 251.0,349.0 261.6,352.4 261.6,218.8 28.0,218.8" fill="#463ae6"/>
<polygon points="28.0,315.3 29.5,315.3 35.6,318.5 41.0,312.0 45.5,314.0 50.0,312.0 54.0,316.4 63.0,315.3 69.5,314.2 74.0,315.7 78.0,308.7 85.0,313.0 91.0,311.0 98.0,312.0 104.0,314.2 110.0,311.0 115.0,315.3 122.0,312.0 128.0,317.5 135.0,316.4 139.0,321.8 142.0,320.7 146.0,321.8 151.0,318.5 157.0,313.0 164.0,312.0 170.0,311.0 176.0,308.7 181.0,316.4 186.0,315.3 192.0,309.8 199.0,315.3 203.0,318.5 207.0,315.3 212.0,317.5 216.0,313.5 225.0,314.2 231.0,315.3 236.0,311.0 242.0,312.0 249.0,314.2 255.0,316.4 261.6,317.5 261.6,218.8 28.0,218.8" fill="#1e64fa"/>
<polygon points="28.0,295.5 32.0,297.0 35.0,299.5 38.0,297.0 44.0,295.0 49.0,295.0 54.0,297.0 59.0,298.0 64.0,296.5 69.0,296.0 73.0,297.0 75.0,298.0 78.0,295.0 81.0,293.5 84.0,294.5 89.0,294.0 94.0,294.5 99.0,293.5 104.0,295.5 107.0,297.5 110.0,295.0 114.0,296.0 119.0,295.5 124.0,297.0 129.0,299.5 134.0,301.5 137.0,300.5 140.0,302.0 145.0,303.5 148.0,302.5 155.0,299.0 160.0,297.5 165.0,296.5 170.0,296.0 175.0,295.5 177.0,294.5 180.0,296.5 185.0,297.0 192.0,294.0 196.0,295.5 200.0,296.5 202.0,300.5 205.0,297.0 210.0,300.5 215.0,297.0 220.0,297.0 227.0,296.5 232.0,295.5 235.0,295.0 242.0,295.0 247.0,296.0 252.0,297.0 257.0,297.5 261.6,298.0 261.6,218.8 28.0,218.8" fill="#1096f0"/>
<polygon points="28.0,286.0 32.0,287.0 35.0,289.5 38.0,286.5 44.0,285.5 49.0,286.0 54.0,288.0 59.0,288.5 64.0,287.5 69.0,287.0 73.0,288.5 75.0,289.5 78.0,286.0 81.0,285.0 84.0,285.5 89.0,284.5 94.0,285.5 99.0,284.5 104.0,285.5 107.0,287.5 110.0,285.5 114.0,286.5 119.0,286.5 124.0,288.0 129.0,290.0 132.0,291.5 136.0,290.5 140.0,292.0 145.0,293.0 148.0,294.0 155.0,292.0 160.0,291.0 165.0,290.0 170.0,289.0 175.0,287.5 177.0,286.0 180.0,288.5 185.0,288.0 192.0,285.0 196.0,286.5 201.0,291.0 205.0,289.5 210.0,289.5 215.0,288.5 222.0,288.0 227.0,288.0 232.0,287.5 235.0,286.5 239.0,286.5 247.0,287.5 252.0,288.0 257.0,288.5 261.6,288.5 261.6,218.8 28.0,218.8" fill="#10b8d8"/>
<polygon points="28.0,276.0 32.0,278.0 35.0,281.0 38.0,278.0 44.0,277.0 49.0,277.5 54.0,279.5 59.0,280.5 64.0,279.5 69.0,279.0 73.0,280.0 75.0,281.5 78.0,278.0 81.0,276.5 84.0,277.0 89.0,278.0 94.0,278.5 99.0,277.5 104.0,278.5 107.0,280.0 110.0,278.5 114.0,279.5 119.0,279.0 124.0,280.5 129.0,282.0 132.0,283.0 136.0,282.0 140.0,284.5 145.0,285.5 148.0,287.0 152.0,286.0 155.0,284.0 160.0,283.0 165.0,282.0 170.0,281.0 174.0,280.0 177.0,277.0 180.0,279.5 185.0,279.5 192.0,276.0 195.0,278.5 202.0,283.5 205.0,282.5 211.0,282.0 215.0,281.0 220.0,280.5 227.0,280.5 232.0,279.5 235.0,278.0 239.0,279.0 242.0,279.5 247.0,280.0 252.0,279.5 257.0,280.0 261.6,279.5 261.6,218.8 28.0,218.8" fill="#10c8a0"/>
<polygon points="28.0,266.0 32.0,267.0 35.0,272.5 38.0,268.0 44.0,267.5 49.0,267.5 54.0,270.0 59.0,271.0 64.0,269.5 69.0,268.5 73.0,271.0 75.0,273.0 78.0,268.0 81.0,267.0 84.0,268.5 89.0,269.0 94.0,270.0 99.0,269.0 102.0,268.0 105.0,271.0 107.0,273.0 110.0,269.0 113.0,272.0 117.0,272.5 124.0,273.0 128.0,274.5 132.0,275.5 136.0,274.5 140.0,274.5 145.0,275.5 148.0,278.0 152.0,275.5 160.0,274.0 165.0,274.0 170.0,272.5 174.0,270.5 176.5,273.0 179.0,277.0 182.0,274.5 185.0,272.5 191.0,268.5 195.0,271.5 201.0,274.5 205.0,275.5 210.0,274.5 215.0,274.0 220.0,274.5 225.0,273.0 230.0,273.5 235.0,272.0 239.0,273.0 245.0,272.5 250.0,273.5 255.0,272.0 261.6,272.5 261.6,218.8 28.0,218.8" fill="#42c65a"/>
<polygon points="28.0,260.0 35.0,262.0 39.0,261.0 49.0,261.0 59.0,261.0 69.0,261.0 73.0,263.5 74.5,265.5 76.0,262.5 84.0,261.8 94.0,261.5 104.0,262.5 109.0,261.5 114.0,263.0 119.0,265.0 124.0,266.5 128.0,267.5 131.0,271.0 134.0,268.5 139.0,270.0 144.0,269.0 149.0,270.0 154.0,268.5 159.0,267.5 164.0,266.5 169.0,265.0 173.0,262.5 175.0,263.0 179.0,264.0 181.0,266.5 184.0,267.0 191.0,263.5 195.0,267.0 201.0,270.5 210.0,270.5 217.0,269.0 222.0,269.0 227.0,268.0 233.0,267.0 235.0,264.0 241.0,263.0 245.0,265.5 249.0,263.5 253.0,266.0 257.0,264.5 261.6,265.0 261.6,218.8 28.0,218.8" fill="#e8c800"/>
<polygon points="28.0,257.0 50.0,257.5 84.0,258.5 94.0,258.5 104.0,259.0 114.0,260.0 119.0,261.0 124.0,262.5 128.0,263.5 130.0,267.0 133.0,263.5 136.0,264.5 139.0,265.0 144.0,261.5 149.0,263.5 154.0,262.5 159.0,262.0 164.0,261.0 169.0,260.5 172.0,259.0 177.0,258.5 181.0,261.0 184.0,261.5 189.0,260.5 194.0,260.0 199.0,262.0 207.0,265.5 210.0,267.0 213.0,264.5 217.0,264.0 222.0,263.0 227.0,263.0 233.0,262.0 236.0,257.5 239.0,260.0 242.0,260.5 245.0,259.5 247.0,261.0 249.0,260.0 252.0,262.5 255.0,260.0 261.6,259.5 261.6,218.8 28.0,218.8" fill="#fcd000"/>
<polygon points="28.0,249.5 32.0,251.0 36.0,254.5 39.0,252.0 44.0,251.5 49.0,252.5 54.0,253.0 59.0,253.5 64.0,253.0 69.0,252.0 74.0,254.5 78.0,251.5 84.0,253.8 94.0,254.0 99.0,254.0 104.0,254.5 110.0,254.0 114.0,254.5 119.0,255.0 124.0,255.5 128.0,256.0 130.0,258.5 131.5,257.5 134.0,255.5 136.0,256.5 139.0,258.0 144.0,256.5 149.0,258.0 154.0,257.0 159.0,255.5 164.0,256.0 169.0,255.0 172.0,253.5 176.0,250.5 179.0,253.0 181.0,256.0 184.0,255.5 189.0,255.5 192.0,252.5 195.0,254.0 201.0,258.0 207.0,259.5 210.0,261.0 213.0,257.0 217.0,256.0 222.0,256.5 227.0,256.0 233.0,255.0 236.0,252.5 239.0,255.0 242.0,254.5 247.0,255.0 252.0,255.5 257.0,255.0 261.6,255.0 261.6,218.8 28.0,218.8" fill="#f8fc00"/>
<polyline points="28.0,249.5 32.0,251.0 36.0,254.5 39.0,252.0 44.0,251.5 49.0,252.5 54.0,253.0 59.0,253.5 64.0,253.0 69.0,252.0 74.0,254.5 78.0,251.5 84.0,253.8 94.0,254.0 99.0,254.0 104.0,254.5 110.0,254.0 114.0,254.5 119.0,255.0 124.0,255.5 128.0,256.0 130.0,258.5 131.5,257.5 134.0,255.5 136.0,256.5 139.0,258.0 144.0,256.5 149.0,258.0 154.0,257.0 159.0,255.5 164.0,256.0 169.0,255.0 172.0,253.5 176.0,250.5 179.0,253.0 181.0,256.0 184.0,255.5 189.0,255.5 192.0,252.5 195.0,254.0 201.0,258.0 207.0,259.5 210.0,261.0 213.0,257.0 217.0,256.0 222.0,256.5 227.0,256.0 233.0,255.0 236.0,252.5 239.0,255.0 242.0,254.5 247.0,255.0 252.0,255.5 257.0,255.0 261.6,255.0" fill="none" stroke="#15151f" stroke-opacity="0.9" stroke-width="0.90" stroke-linejoin="round"/>
<polyline points="28.0,257.0 50.0,257.5 84.0,258.5 94.0,258.5 104.0,259.0 114.0,260.0 119.0,261.0 124.0,262.5 128.0,263.5 130.0,267.0 133.0,263.5 136.0,264.5 139.0,265.0 144.0,261.5 149.0,263.5 154.0,262.5 159.0,262.0 164.0,261.0 169.0,260.5 172.0,259.0 177.0,258.5 181.0,261.0 184.0,261.5 189.0,260.5 194.0,260.0 199.0,262.0 207.0,265.5 210.0,267.0 213.0,264.5 217.0,264.0 222.0,263.0 227.0,263.0 233.0,262.0 236.0,257.5 239.0,260.0 242.0,260.5 245.0,259.5 247.0,261.0 249.0,260.0 252.0,262.5 255.0,260.0 261.6,259.5" fill="none" stroke="#15151f" stroke-opacity="0.9" stroke-width="0.90" stroke-linejoin="round"/>
<polyline points="28.0,260.0 35.0,262.0 39.0,261.0 49.0,261.0 59.0,261.0 69.0,261.0 73.0,263.5 74.5,265.5 76.0,262.5 84.0,261.8 94.0,261.5 104.0,262.5 109.0,261.5 114.0,263.0 119.0,265.0 124.0,266.5 128.0,267.5 131.0,271.0 134.0,268.5 139.0,270.0 144.0,269.0 149.0,270.0 154.0,268.5 159.0,267.5 164.0,266.5 169.0,265.0 173.0,262.5 175.0,263.0 179.0,264.0 181.0,266.5 184.0,267.0 191.0,263.5 195.0,267.0 201.0,270.5 210.0,270.5 217.0,269.0 222.0,269.0 227.0,268.0 233.0,267.0 235.0,264.0 241.0,263.0 245.0,265.5 249.0,263.5 253.0,266.0 257.0,264.5 261.6,265.0" fill="none" stroke="#15151f" stroke-opacity="0.9" stroke-width="0.90" stroke-linejoin="round"/>
<polyline points="28.0,266.0 32.0,267.0 35.0,272.5 38.0,268.0 44.0,267.5 49.0,267.5 54.0,270.0 59.0,271.0 64.0,269.5 69.0,268.5 73.0,271.0 75.0,273.0 78.0,268.0 81.0,267.0 84.0,268.5 89.0,269.0 94.0,270.0 99.0,269.0 102.0,268.0 105.0,271.0 107.0,273.0 110.0,269.0 113.0,272.0 117.0,272.5 124.0,273.0 128.0,274.5 132.0,275.5 136.0,274.5 140.0,274.5 145.0,275.5 148.0,278.0 152.0,275.5 160.0,274.0 165.0,274.0 170.0,272.5 174.0,270.5 176.5,273.0 179.0,277.0 182.0,274.5 185.0,272.5 191.0,268.5 195.0,271.5 201.0,274.5 205.0,275.5 210.0,274.5 215.0,274.0 220.0,274.5 225.0,273.0 230.0,273.5 235.0,272.0 239.0,273.0 245.0,272.5 250.0,273.5 255.0,272.0 261.6,272.5" fill="none" stroke="#15151f" stroke-opacity="0.9" stroke-width="0.90" stroke-linejoin="round"/>
<polyline points="28.0,276.0 32.0,278.0 35.0,281.0 38.0,278.0 44.0,277.0 49.0,277.5 54.0,279.5 59.0,280.5 64.0,279.5 69.0,279.0 73.0,280.0 75.0,281.5 78.0,278.0 81.0,276.5 84.0,277.0 89.0,278.0 94.0,278.5 99.0,277.5 104.0,278.5 107.0,280.0 110.0,278.5 114.0,279.5 119.0,279.0 124.0,280.5 129.0,282.0 132.0,283.0 136.0,282.0 140.0,284.5 145.0,285.5 148.0,287.0 152.0,286.0 155.0,284.0 160.0,283.0 165.0,282.0 170.0,281.0 174.0,280.0 177.0,277.0 180.0,279.5 185.0,279.5 192.0,276.0 195.0,278.5 202.0,283.5 205.0,282.5 211.0,282.0 215.0,281.0 220.0,280.5 227.0,280.5 232.0,279.5 235.0,278.0 239.0,279.0 242.0,279.5 247.0,280.0 252.0,279.5 257.0,280.0 261.6,279.5" fill="none" stroke="#15151f" stroke-opacity="0.9" stroke-width="0.90" stroke-linejoin="round"/>
<polyline points="28.0,286.0 32.0,287.0 35.0,289.5 38.0,286.5 44.0,285.5 49.0,286.0 54.0,288.0 59.0,288.5 64.0,287.5 69.0,287.0 73.0,288.5 75.0,289.5 78.0,286.0 81.0,285.0 84.0,285.5 89.0,284.5 94.0,285.5 99.0,284.5 104.0,285.5 107.0,287.5 110.0,285.5 114.0,286.5 119.0,286.5 124.0,288.0 129.0,290.0 132.0,291.5 136.0,290.5 140.0,292.0 145.0,293.0 148.0,294.0 155.0,292.0 160.0,291.0 165.0,290.0 170.0,289.0 175.0,287.5 177.0,286.0 180.0,288.5 185.0,288.0 192.0,285.0 196.0,286.5 201.0,291.0 205.0,289.5 210.0,289.5 215.0,288.5 222.0,288.0 227.0,288.0 232.0,287.5 235.0,286.5 239.0,286.5 247.0,287.5 252.0,288.0 257.0,288.5 261.6,288.5" fill="none" stroke="#15151f" stroke-opacity="0.9" stroke-width="0.90" stroke-linejoin="round"/>
<polyline points="28.0,295.5 32.0,297.0 35.0,299.5 38.0,297.0 44.0,295.0 49.0,295.0 54.0,297.0 59.0,298.0 64.0,296.5 69.0,296.0 73.0,297.0 75.0,298.0 78.0,295.0 81.0,293.5 84.0,294.5 89.0,294.0 94.0,294.5 99.0,293.5 104.0,295.5 107.0,297.5 110.0,295.0 114.0,296.0 119.0,295.5 124.0,297.0 129.0,299.5 134.0,301.5 137.0,300.5 140.0,302.0 145.0,303.5 148.0,302.5 155.0,299.0 160.0,297.5 165.0,296.5 170.0,296.0 175.0,295.5 177.0,294.5 180.0,296.5 185.0,297.0 192.0,294.0 196.0,295.5 200.0,296.5 202.0,300.5 205.0,297.0 210.0,300.5 215.0,297.0 220.0,297.0 227.0,296.5 232.0,295.5 235.0,295.0 242.0,295.0 247.0,296.0 252.0,297.0 257.0,297.5 261.6,298.0" fill="none" stroke="#15151f" stroke-opacity="0.9" stroke-width="0.90" stroke-linejoin="round"/>
<polyline points="28.0,315.3 29.5,315.3 35.6,318.5 41.0,312.0 45.5,314.0 50.0,312.0 54.0,316.4 63.0,315.3 69.5,314.2 74.0,315.7 78.0,308.7 85.0,313.0 91.0,311.0 98.0,312.0 104.0,314.2 110.0,311.0 115.0,315.3 122.0,312.0 128.0,317.5 135.0,316.4 139.0,321.8 142.0,320.7 146.0,321.8 151.0,318.5 157.0,313.0 164.0,312.0 170.0,311.0 176.0,308.7 181.0,316.4 186.0,315.3 192.0,309.8 199.0,315.3 203.0,318.5 207.0,315.3 212.0,317.5 216.0,313.5 225.0,314.2 231.0,315.3 236.0,311.0 242.0,312.0 249.0,314.2 255.0,316.4 261.6,317.5" fill="none" stroke="#15151f" stroke-opacity="0.9" stroke-width="0.90" stroke-linejoin="round"/>
<polyline points="28.0,347.0 29.5,347.0 34.5,348.0 41.0,343.6 47.6,347.0 56.0,349.7 67.0,348.4 74.0,349.0 80.0,343.6 89.0,344.0 98.0,343.6 104.0,347.0 111.0,346.0 120.0,346.2 128.0,349.0 135.0,348.0 142.0,352.4 151.0,350.2 157.0,344.7 166.0,344.7 176.0,343.6 181.0,348.0 186.0,348.4 193.0,344.7 199.0,345.8 203.0,348.0 207.0,347.0 214.0,344.7 223.0,345.4 229.0,346.2 236.0,344.7 244.5,347.0 251.0,349.0 261.6,352.4" fill="none" stroke="#15151f" stroke-opacity="0.9" stroke-width="0.90" stroke-linejoin="round"/>
<polyline points="28.0,258.5 129.5,258.5 129.5,273.0 141.0,273.0 141.0,258.8 175.8,258.8 175.8,273.0 177.2,273.0 177.2,258.8 200.5,258.8 200.5,273.0 222.0,273.0 222.0,258.5 234.3,258.5 234.3,273.0 240.2,273.0 240.2,258.5 261.0,258.5" fill="none" stroke="#f0401e" stroke-width="1.1"/>
<polyline points="28.0,239.0 261.0,239.0" fill="none" stroke="#1a1a1a" stroke-width="1.1"/>
</g>
<rect x="29.0" y="219.8" width="231.6" height="191.0" fill="none" stroke="#808080" stroke-width="0.6"/>
<rect x="168.0" y="386.6" width="88.0" height="19.8" fill="#fff" stroke="#333" stroke-width="0.6"/>
<line x1="170.0" y1="392.0" x2="191.0" y2="392.0" stroke="#444" stroke-width="1.1"/>
<line x1="170.0" y1="401.0" x2="191.0" y2="401.0" stroke="#f06a6a" stroke-width="1.1"/>
<text filter="url(#gs)" class="s" x="193.0" y="395.2" font-size="7.2" textLength="60.6" lengthAdjust="spacingAndGlyphs">Artificial Intelligence</text>
<text filter="url(#gs)" class="s" x="193.0" y="403.8" font-size="7.2" textLength="52.6" lengthAdjust="spacingAndGlyphs">Threshold Method</text>
<text filter="url(#gs)" class="t" x="18.8" y="242.3" font-size="8.5" textLength="7.0" lengthAdjust="spacingAndGlyphs">50</text>
<line x1="29.0" y1="239.0" x2="31.0" y2="239.0" stroke="#333" stroke-width="0.4"/>
<text filter="url(#gs)" class="t" x="14.6" y="266.8" font-size="8.5" textLength="11.2" lengthAdjust="spacingAndGlyphs">100</text>
<line x1="29.0" y1="263.5" x2="31.0" y2="263.5" stroke="#333" stroke-width="0.4"/>
<text filter="url(#gs)" class="t" x="14.6" y="291.3" font-size="8.5" textLength="11.2" lengthAdjust="spacingAndGlyphs">150</text>
<line x1="29.0" y1="288.0" x2="31.0" y2="288.0" stroke="#333" stroke-width="0.4"/>
<text filter="url(#gs)" class="t" x="14.6" y="315.8" font-size="8.5" textLength="11.2" lengthAdjust="spacingAndGlyphs">200</text>
<line x1="29.0" y1="312.5" x2="31.0" y2="312.5" stroke="#333" stroke-width="0.4"/>
<text filter="url(#gs)" class="t" x="14.6" y="340.3" font-size="8.5" textLength="11.2" lengthAdjust="spacingAndGlyphs">250</text>
<line x1="29.0" y1="337.0" x2="31.0" y2="337.0" stroke="#333" stroke-width="0.4"/>
<text filter="url(#gs)" class="t" x="14.6" y="364.8" font-size="8.5" textLength="11.2" lengthAdjust="spacingAndGlyphs">300</text>
<line x1="29.0" y1="361.5" x2="31.0" y2="361.5" stroke="#333" stroke-width="0.4"/>
<text filter="url(#gs)" class="t" x="14.6" y="389.3" font-size="8.5" textLength="11.2" lengthAdjust="spacingAndGlyphs">350</text>
<line x1="29.0" y1="386.0" x2="31.0" y2="386.0" stroke="#333" stroke-width="0.4"/>
<text filter="url(#gs)" class="t" x="14.6" y="413.8" font-size="8.5" textLength="11.2" lengthAdjust="spacingAndGlyphs">400</text>
<line x1="29.0" y1="410.5" x2="31.0" y2="410.5" stroke="#333" stroke-width="0.4"/>
<text filter="url(#gs)" class="t" x="73.3" y="421.8" font-size="8.5" textLength="7.0" lengthAdjust="spacingAndGlyphs">50</text>
<line x1="76.5" y1="410.8" x2="76.5" y2="408.8" stroke="#333" stroke-width="0.4"/>
<line x1="76.5" y1="219.8" x2="76.5" y2="221.8" stroke="#333" stroke-width="0.4"/>
<text filter="url(#gs)" class="t" x="119.4" y="421.8" font-size="8.5" textLength="11.2" lengthAdjust="spacingAndGlyphs">100</text>
<line x1="124.7" y1="410.8" x2="124.7" y2="408.8" stroke="#333" stroke-width="0.4"/>
<line x1="124.7" y1="219.8" x2="124.7" y2="221.8" stroke="#333" stroke-width="0.4"/>
<text filter="url(#gs)" class="t" x="167.5" y="421.8" font-size="8.5" textLength="11.2" lengthAdjust="spacingAndGlyphs">150</text>
<line x1="172.8" y1="410.8" x2="172.8" y2="408.8" stroke="#333" stroke-width="0.4"/>
<line x1="172.8" y1="219.8" x2="172.8" y2="221.8" stroke="#333" stroke-width="0.4"/>
<text filter="url(#gs)" class="t" x="215.7" y="421.8" font-size="8.5" textLength="11.2" lengthAdjust="spacingAndGlyphs">200</text>
<line x1="221.0" y1="410.8" x2="221.0" y2="408.8" stroke="#333" stroke-width="0.4"/>
<line x1="221.0" y1="219.8" x2="221.0" y2="221.8" stroke="#333" stroke-width="0.4"/>
<text filter="url(#gs)" class="s" x="126.5" y="430.9" font-size="8.0" textLength="38.0" lengthAdjust="spacingAndGlyphs" fill="#3a3a3a">Time(minute)</text>
<text filter="url(#gs)" class="s" transform="translate(9.8,315.5) rotate(-90)" x="0" y="0" font-size="6.9" fill="#3a3a3a" text-anchor="middle" textLength="29.0" lengthAdjust="spacingAndGlyphs">Depth(m)</text>
<text filter="url(#gs)" class="s" x="5.0" y="225.5" font-size="9.5" font-weight="bold" fill="#111">C.</text>
<clipPath id="cD"><rect x="304.1" y="220.5" width="241.8" height="191.4"/></clipPath>
<g clip-path="url(#cD)">
<rect x="304.1" y="220.5" width="241.8" height="191.4" fill="#4224b4"/>
<polygon points="303.1,356.6 304.8,356.6 314.0,354.3 323.0,353.2 327.4,354.3 331.8,352.0 338.5,352.0 347.4,354.3 354.0,352.0 358.5,350.0 365.0,347.7 371.8,344.4 378.4,348.8 386.0,353.2 391.7,350.0 398.4,347.7 405.0,350.0 411.7,352.0 418.4,352.0 425.0,347.7 431.7,347.7 440.5,345.5 449.4,349.9 460.5,342.1 469.4,345.5 478.2,347.7 485.0,348.8 489.3,345.5 494.9,344.4 500.4,347.7 509.3,353.2 516.0,356.6 522.6,354.3 531.5,353.2 545.6,351.5 546.9,351.5 546.9,219.5 303.1,219.5" fill="#463ae6"/>
<polygon points="303.1,316.6 304.8,316.6 312.0,315.5 318.5,315.5 323.0,312.2 325.0,315.5 329.6,310.0 336.0,311.0 343.0,313.3 347.4,317.7 352.0,315.5 356.0,316.6 360.7,313.3 365.0,312.2 371.8,305.5 376.0,308.9 382.9,315.5 387.0,314.4 394.0,308.9 400.6,307.8 405.0,315.5 411.7,312.2 416.0,316.6 422.8,313.3 425.0,312.2 429.4,316.6 436.0,312.2 441.6,311.0 447.0,315.5 453.8,312.2 460.5,305.5 467.0,308.9 473.8,312.2 480.5,310.0 485.0,317.7 489.3,308.9 491.5,311.0 496.0,308.9 500.4,314.4 507.0,315.5 513.7,318.9 520.4,317.7 529.3,316.6 536.0,317.7 542.6,313.3 545.6,314.4 546.9,314.4 546.9,219.5 303.1,219.5" fill="#1e64fa"/>
<polygon points="303.1,296.0 304.8,296.0 311.0,295.0 318.0,294.5 323.0,295.5 324.5,297.0 327.0,294.5 333.0,294.0 338.0,293.5 343.0,294.5 347.0,298.0 350.0,295.0 353.0,296.0 357.0,294.5 360.0,293.5 365.0,294.0 370.0,291.5 375.0,292.0 380.0,294.0 385.0,296.0 390.0,294.0 395.0,291.5 400.0,292.0 404.0,294.0 408.0,293.5 415.0,295.0 420.0,295.0 425.0,294.0 430.0,298.0 435.0,295.5 440.0,295.0 445.0,296.3 450.0,296.5 455.0,295.5 460.0,294.0 465.0,294.5 470.0,295.5 480.0,294.5 484.0,299.0 488.0,294.5 494.0,294.0 501.0,296.5 511.0,298.0 516.0,299.0 521.0,299.0 531.0,299.0 536.0,298.5 541.0,296.5 546.9,296.5 546.9,219.5 303.1,219.5" fill="#1096f0"/>
<polygon points="303.1,286.0 304.8,286.0 309.0,286.5 315.0,285.5 321.0,285.0 324.0,284.5 326.5,287.0 329.0,285.0 333.0,284.5 338.0,284.0 343.0,284.0 346.0,286.0 349.0,284.5 353.0,283.5 358.0,284.0 362.0,285.0 366.0,284.5 370.0,283.0 375.0,281.0 380.0,283.0 385.0,285.0 390.0,283.0 395.0,281.0 400.0,282.5 404.0,283.5 408.0,282.0 415.0,285.5 420.0,284.5 425.0,284.0 430.0,288.0 435.0,286.0 440.0,285.0 445.0,286.8 450.0,286.8 455.0,286.5 460.0,286.0 470.0,286.5 480.0,285.0 484.0,289.0 488.0,286.0 495.0,285.0 501.0,287.0 511.0,289.5 521.0,289.5 531.0,289.5 536.0,289.0 541.0,287.0 546.9,286.5 546.9,219.5 303.1,219.5" fill="#10b8d8"/>
<polygon points="303.1,279.0 304.8,279.0 308.0,278.0 313.0,277.5 318.0,276.5 323.0,276.0 326.5,278.0 329.0,275.5 333.0,275.0 338.0,274.5 343.0,273.5 347.0,274.5 350.0,273.0 353.0,272.5 356.0,273.5 360.0,274.5 365.0,277.0 370.0,275.5 375.0,273.0 380.0,274.5 385.0,275.5 390.0,277.0 395.0,274.0 400.0,273.5 404.0,277.0 408.0,274.0 415.0,276.5 420.0,276.0 425.0,275.0 430.0,279.0 435.0,277.5 440.0,276.5 445.0,278.5 450.0,278.5 455.0,277.0 460.0,278.0 470.0,278.5 480.0,277.5 484.0,281.0 490.0,278.0 496.0,278.5 501.0,280.0 511.0,281.0 521.0,281.5 531.0,281.5 536.0,282.5 541.0,280.5 546.9,280.0 546.9,219.5 303.1,219.5" fill="#10c8a0"/>
<polygon points="303.1,266.5 304.8,266.5 309.0,266.0 313.0,266.5 315.5,270.0 318.0,266.5 326.0,266.0 327.0,269.0 329.0,266.5 343.0,266.0 347.0,265.5 348.0,267.0 350.0,265.5 354.0,266.0 358.0,265.0 360.0,270.0 366.0,271.0 371.0,272.0 375.0,273.0 380.0,271.0 385.0,269.0 389.0,270.0 393.0,268.0 397.0,270.5 400.5,268.5 404.0,273.5 406.0,276.5 409.0,272.5 415.0,272.0 420.0,271.0 425.0,268.5 429.0,271.5 433.0,270.0 437.0,271.0 440.0,269.0 445.0,270.0 450.0,270.0 451.5,267.5 454.0,272.0 460.0,272.0 465.0,273.0 470.0,272.5 480.0,272.5 484.0,275.0 488.0,272.5 492.0,273.5 497.0,272.5 502.0,273.5 507.0,274.5 512.0,273.5 517.0,275.0 522.0,275.0 527.0,275.5 532.0,274.5 537.0,275.0 541.0,272.5 545.6,273.5 546.9,273.5 546.9,219.5 303.1,219.5" fill="#42c65a"/>
<polygon points="303.1,261.5 304.8,261.5 313.0,261.5 315.5,263.0 318.0,261.5 326.0,261.5 327.0,263.0 329.0,261.8 347.0,261.5 348.0,263.0 350.0,261.8 354.0,262.0 358.0,261.5 360.0,264.0 363.0,266.0 366.0,266.0 371.0,265.0 375.0,266.0 380.0,266.0 385.0,264.5 389.0,265.5 393.0,263.5 397.0,266.0 400.5,264.0 404.0,269.0 406.0,272.5 409.0,268.0 415.0,267.5 420.0,266.0 425.0,264.0 429.0,267.0 433.0,265.0 437.0,266.5 440.0,264.5 445.0,265.5 450.0,266.0 451.5,262.5 453.5,267.0 460.0,267.0 465.0,268.0 470.0,268.0 480.0,268.0 484.0,270.0 489.0,266.5 492.0,269.5 497.0,269.5 502.0,269.0 507.0,270.5 512.0,270.0 517.0,271.0 522.0,271.0 527.0,271.5 532.0,270.5 537.0,271.0 541.0,268.5 545.6,269.5 546.9,269.5 546.9,219.5 303.1,219.5" fill="#e8c800"/>
<polygon points="303.1,257.5 304.8,257.5 313.0,257.0 315.5,258.0 318.0,257.0 326.0,257.0 327.0,258.5 329.0,257.5 347.0,257.5 348.0,258.5 353.0,257.5 358.0,257.5 360.0,258.0 370.0,258.0 375.0,259.0 383.0,259.0 385.0,260.5 389.0,261.5 393.0,260.0 397.0,262.0 400.5,260.5 404.0,264.5 406.0,268.5 409.0,262.5 415.0,262.0 420.0,261.5 425.0,260.0 429.0,262.5 433.0,261.0 437.0,262.0 440.0,260.5 445.0,262.0 450.0,261.5 451.5,259.5 454.0,261.5 460.0,262.5 465.0,264.0 470.0,263.5 475.0,263.0 480.0,263.5 484.0,265.5 487.0,264.5 489.0,261.5 491.0,264.5 495.5,263.5 500.0,265.5 505.0,266.0 510.0,267.5 512.0,266.5 517.0,268.0 522.0,268.0 527.0,267.5 532.0,268.0 537.0,267.0 541.0,264.0 545.6,265.0 546.9,265.0 546.9,219.5 303.1,219.5" fill="#fcd000"/>
<polygon points="303.1,255.0 304.8,255.0 308.0,254.8 313.0,254.5 318.0,255.0 323.0,254.8 327.0,254.5 328.5,252.0 329.5,246.5 332.0,244.5 335.0,244.0 336.5,246.0 337.5,254.0 341.0,254.5 344.0,254.0 345.0,249.0 346.0,252.0 347.0,254.5 348.5,248.0 350.0,245.0 352.0,245.5 353.5,250.0 355.0,248.0 357.0,246.0 358.6,246.0 360.0,254.0 366.0,256.0 371.0,256.0 372.0,248.0 373.0,247.0 374.0,255.0 377.0,255.0 378.6,251.0 380.0,255.0 385.0,256.5 390.0,256.0 392.0,255.0 393.0,246.0 394.5,246.0 395.5,256.5 399.0,256.0 400.0,249.0 401.0,249.0 402.0,257.0 405.0,260.5 409.0,254.0 412.0,256.5 417.0,256.5 422.0,256.0 423.0,245.5 425.5,245.5 426.5,256.0 431.0,256.0 432.0,245.0 434.0,245.0 435.0,256.5 440.0,255.5 445.0,256.0 450.0,256.5 451.0,245.0 452.5,245.0 453.5,256.5 456.0,255.0 459.5,253.5 463.0,255.5 467.0,257.5 470.0,256.0 475.0,255.5 480.0,255.8 483.0,258.0 485.5,258.0 488.0,248.5 490.0,251.0 491.5,254.0 494.0,250.0 495.5,249.0 500.0,251.5 505.0,251.0 507.5,253.0 509.0,259.5 510.0,258.0 511.5,253.0 513.0,254.0 515.0,262.0 516.5,259.5 518.0,257.0 520.0,258.0 522.0,254.0 524.0,253.5 526.0,256.0 527.5,263.5 529.0,262.0 531.0,253.5 532.5,253.5 534.0,256.0 536.0,260.5 538.0,257.0 541.0,254.0 544.0,256.0 545.6,257.5 546.9,257.5 546.9,219.5 303.1,219.5" fill="#f8fc00"/>
<polyline points="303.1,255.0 304.8,255.0 308.0,254.8 313.0,254.5 318.0,255.0 323.0,254.8 327.0,254.5 328.5,252.0 329.5,246.5 332.0,244.5 335.0,244.0 336.5,246.0 337.5,254.0 341.0,254.5 344.0,254.0 345.0,249.0 346.0,252.0 347.0,254.5 348.5,248.0 350.0,245.0 352.0,245.5 353.5,250.0 355.0,248.0 357.0,246.0 358.6,246.0 360.0,254.0 366.0,256.0 371.0,256.0 372.0,248.0 373.0,247.0 374.0,255.0 377.0,255.0 378.6,251.0 380.0,255.0 385.0,256.5 390.0,256.0 392.0,255.0 393.0,246.0 394.5,246.0 395.5,256.5 399.0,256.0 400.0,249.0 401.0,249.0 402.0,257.0 405.0,260.5 409.0,254.0 412.0,256.5 417.0,256.5 422.0,256.0 423.0,245.5 425.5,245.5 426.5,256.0 431.0,256.0 432.0,245.0 434.0,245.0 435.0,256.5 440.0,255.5 445.0,256.0 450.0,256.5 451.0,245.0 452.5,245.0 453.5,256.5 456.0,255.0 459.5,253.5 463.0,255.5 467.0,257.5 470.0,256.0 475.0,255.5 480.0,255.8 483.0,258.0 485.5,258.0 488.0,248.5 490.0,251.0 491.5,254.0 494.0,250.0 495.5,249.0 500.0,251.5 505.0,251.0 507.5,253.0 509.0,259.5 510.0,258.0 511.5,253.0 513.0,254.0 515.0,262.0 516.5,259.5 518.0,257.0 520.0,258.0 522.0,254.0 524.0,253.5 526.0,256.0 527.5,263.5 529.0,262.0 531.0,253.5 532.5,253.5 534.0,256.0 536.0,260.5 538.0,257.0 541.0,254.0 544.0,256.0 545.6,257.5 546.9,257.5" fill="none" stroke="#15151f" stroke-opacity="0.9" stroke-width="0.90" stroke-linejoin="round"/>
<polyline points="303.1,257.5 304.8,257.5 313.0,257.0 315.5,258.0 318.0,257.0 326.0,257.0 327.0,258.5 329.0,257.5 347.0,257.5 348.0,258.5 353.0,257.5 358.0,257.5 360.0,258.0 370.0,258.0 375.0,259.0 383.0,259.0 385.0,260.5 389.0,261.5 393.0,260.0 397.0,262.0 400.5,260.5 404.0,264.5 406.0,268.5 409.0,262.5 415.0,262.0 420.0,261.5 425.0,260.0 429.0,262.5 433.0,261.0 437.0,262.0 440.0,260.5 445.0,262.0 450.0,261.5 451.5,259.5 454.0,261.5 460.0,262.5 465.0,264.0 470.0,263.5 475.0,263.0 480.0,263.5 484.0,265.5 487.0,264.5 489.0,261.5 491.0,264.5 495.5,263.5 500.0,265.5 505.0,266.0 510.0,267.5 512.0,266.5 517.0,268.0 522.0,268.0 527.0,267.5 532.0,268.0 537.0,267.0 541.0,264.0 545.6,265.0 546.9,265.0" fill="none" stroke="#15151f" stroke-opacity="0.9" stroke-width="0.90" stroke-linejoin="round"/>
<polyline points="303.1,261.5 304.8,261.5 313.0,261.5 315.5,263.0 318.0,261.5 326.0,261.5 327.0,263.0 329.0,261.8 347.0,261.5 348.0,263.0 350.0,261.8 354.0,262.0 358.0,261.5 360.0,264.0 363.0,266.0 366.0,266.0 371.0,265.0 375.0,266.0 380.0,266.0 385.0,264.5 389.0,265.5 393.0,263.5 397.0,266.0 400.5,264.0 404.0,269.0 406.0,272.5 409.0,268.0 415.0,267.5 420.0,266.0 425.0,264.0 429.0,267.0 433.0,265.0 437.0,266.5 440.0,264.5 445.0,265.5 450.0,266.0 451.5,262.5 453.5,267.0 460.0,267.0 465.0,268.0 470.0,268.0 480.0,268.0 484.0,270.0 489.0,266.5 492.0,269.5 497.0,269.5 502.0,269.0 507.0,270.5 512.0,270.0 517.0,271.0 522.0,271.0 527.0,271.5 532.0,270.5 537.0,271.0 541.0,268.5 545.6,269.5 546.9,269.5" fill="none" stroke="#15151f" stroke-opacity="0.9" stroke-width="0.90" stroke-linejoin="round"/>
<polyline points="303.1,266.5 304.8,266.5 309.0,266.0 313.0,266.5 315.5,270.0 318.0,266.5 326.0,266.0 327.0,269.0 329.0,266.5 343.0,266.0 347.0,265.5 348.0,267.0 350.0,265.5 354.0,266.0 358.0,265.0 360.0,270.0 366.0,271.0 371.0,272.0 375.0,273.0 380.0,271.0 385.0,269.0 389.0,270.0 393.0,268.0 397.0,270.5 400.5,268.5 404.0,273.5 406.0,276.5 409.0,272.5 415.0,272.0 420.0,271.0 425.0,268.5 429.0,271.5 433.0,270.0 437.0,271.0 440.0,269.0 445.0,270.0 450.0,270.0 451.5,267.5 454.0,272.0 460.0,272.0 465.0,273.0 470.0,272.5 480.0,272.5 484.0,275.0 488.0,272.5 492.0,273.5 497.0,272.5 502.0,273.5 507.0,274.5 512.0,273.5 517.0,275.0 522.0,275.0 527.0,275.5 532.0,274.5 537.0,275.0 541.0,272.5 545.6,273.5 546.9,273.5" fill="none" stroke="#15151f" stroke-opacity="0.9" stroke-width="0.90" stroke-linejoin="round"/>
<polyline points="303.1,279.0 304.8,279.0 308.0,278.0 313.0,277.5 318.0,276.5 323.0,276.0 326.5,278.0 329.0,275.5 333.0,275.0 338.0,274.5 343.0,273.5 347.0,274.5 350.0,273.0 353.0,272.5 356.0,273.5 360.0,274.5 365.0,277.0 370.0,275.5 375.0,273.0 380.0,274.5 385.0,275.5 390.0,277.0 395.0,274.0 400.0,273.5 404.0,277.0 408.0,274.0 415.0,276.5 420.0,276.0 425.0,275.0 430.0,279.0 435.0,277.5 440.0,276.5 445.0,278.5 450.0,278.5 455.0,277.0 460.0,278.0 470.0,278.5 480.0,277.5 484.0,281.0 490.0,278.0 496.0,278.5 501.0,280.0 511.0,281.0 521.0,281.5 531.0,281.5 536.0,282.5 541.0,280.5 546.9,280.0" fill="none" stroke="#15151f" stroke-opacity="0.9" stroke-width="0.90" stroke-linejoin="round"/>
<polyline points="303.1,286.0 304.8,286.0 309.0,286.5 315.0,285.5 321.0,285.0 324.0,284.5 326.5,287.0 329.0,285.0 333.0,284.5 338.0,284.0 343.0,284.0 346.0,286.0 349.0,284.5 353.0,283.5 358.0,284.0 362.0,285.0 366.0,284.5 370.0,283.0 375.0,281.0 380.0,283.0 385.0,285.0 390.0,283.0 395.0,281.0 400.0,282.5 404.0,283.5 408.0,282.0 415.0,285.5 420.0,284.5 425.0,284.0 430.0,288.0 435.0,286.0 440.0,285.0 445.0,286.8 450.0,286.8 455.0,286.5 460.0,286.0 470.0,286.5 480.0,285.0 484.0,289.0 488.0,286.0 495.0,285.0 501.0,287.0 511.0,289.5 521.0,289.5 531.0,289.5 536.0,289.0 541.0,287.0 546.9,286.5" fill="none" stroke="#15151f" stroke-opacity="0.9" stroke-width="0.90" stroke-linejoin="round"/>
<polyline points="303.1,296.0 304.8,296.0 311.0,295.0 318.0,294.5 323.0,295.5 324.5,297.0 327.0,294.5 333.0,294.0 338.0,293.5 343.0,294.5 347.0,298.0 350.0,295.0 353.0,296.0 357.0,294.5 360.0,293.5 365.0,294.0 370.0,291.5 375.0,292.0 380.0,294.0 385.0,296.0 390.0,294.0 395.0,291.5 400.0,292.0 404.0,294.0 408.0,293.5 415.0,295.0 420.0,295.0 425.0,294.0 430.0,298.0 435.0,295.5 440.0,295.0 445.0,296.3 450.0,296.5 455.0,295.5 460.0,294.0 465.0,294.5 470.0,295.5 480.0,294.5 484.0,299.0 488.0,294.5 494.0,294.0 501.0,296.5 511.0,298.0 516.0,299.0 521.0,299.0 531.0,299.0 536.0,298.5 541.0,296.5 546.9,296.5" fill="none" stroke="#15151f" stroke-opacity="0.9" stroke-width="0.90" stroke-linejoin="round"/>
<polyline points="303.1,316.6 304.8,316.6 312.0,315.5 318.5,315.5 323.0,312.2 325.0,315.5 329.6,310.0 336.0,311.0 343.0,313.3 347.4,317.7 352.0,315.5 356.0,316.6 360.7,313.3 365.0,312.2 371.8,305.5 376.0,308.9 382.9,315.5 387.0,314.4 394.0,308.9 400.6,307.8 405.0,315.5 411.7,312.2 416.0,316.6 422.8,313.3 425.0,312.2 429.4,316.6 436.0,312.2 441.6,311.0 447.0,315.5 453.8,312.2 460.5,305.5 467.0,308.9 473.8,312.2 480.5,310.0 485.0,317.7 489.3,308.9 491.5,311.0 496.0,308.9 500.4,314.4 507.0,315.5 513.7,318.9 520.4,317.7 529.3,316.6 536.0,317.7 542.6,313.3 545.6,314.4 546.9,314.4" fill="none" stroke="#15151f" stroke-opacity="0.9" stroke-width="0.90" stroke-linejoin="round"/>
<polyline points="303.1,356.6 304.8,356.6 314.0,354.3 323.0,353.2 327.4,354.3 331.8,352.0 338.5,352.0 347.4,354.3 354.0,352.0 358.5,350.0 365.0,347.7 371.8,344.4 378.4,348.8 386.0,353.2 391.7,350.0 398.4,347.7 405.0,350.0 411.7,352.0 418.4,352.0 425.0,347.7 431.7,347.7 440.5,345.5 449.4,349.9 460.5,342.1 469.4,345.5 478.2,347.7 485.0,348.8 489.3,345.5 494.9,344.4 500.4,347.7 509.3,353.2 516.0,356.6 522.6,354.3 531.5,353.2 545.6,351.5 546.9,351.5" fill="none" stroke="#15151f" stroke-opacity="0.9" stroke-width="0.90" stroke-linejoin="round"/>
<path d="M308.3,245 L308.6,247.6" stroke="#333" stroke-width="0.9" stroke-linecap="round"/>
<polyline points="304.0,259.3 404.0,259.3 404.0,274.3 409.3,274.3 409.3,259.3 546.0,259.3" fill="none" stroke="#f0401e" stroke-width="1.1"/>
<polyline points="304.0,239.8 546.0,239.8" fill="none" stroke="#1a1a1a" stroke-width="1.1"/>
</g>
<rect x="304.1" y="220.5" width="241.8" height="191.4" fill="none" stroke="#808080" stroke-width="0.6"/>
<rect x="450.0" y="386.0" width="92.2" height="20.0" fill="#fff" stroke="#333" stroke-width="0.6"/>
<line x1="452.4" y1="391.0" x2="474.0" y2="391.0" stroke="#444" stroke-width="1.1"/>
<line x1="452.4" y1="400.4" x2="474.0" y2="400.4" stroke="#f06a6a" stroke-width="1.1"/>
<text filter="url(#gs)" class="s" x="476.0" y="394.2" font-size="7.2" textLength="63.4" lengthAdjust="spacingAndGlyphs">Artificial Intelligence</text>
<text filter="url(#gs)" class="s" x="476.0" y="403.2" font-size="7.2" textLength="55.0" lengthAdjust="spacingAndGlyphs">Threshold Method</text>
<text filter="url(#gs)" class="t" x="294.0" y="243.3" font-size="8.5" textLength="7.0" lengthAdjust="spacingAndGlyphs">50</text>
<line x1="304.1" y1="240.0" x2="306.1" y2="240.0" stroke="#333" stroke-width="0.4"/>
<text filter="url(#gs)" class="t" x="289.8" y="267.8" font-size="8.5" textLength="11.2" lengthAdjust="spacingAndGlyphs">100</text>
<line x1="304.1" y1="264.5" x2="306.1" y2="264.5" stroke="#333" stroke-width="0.4"/>
<text filter="url(#gs)" class="t" x="289.8" y="292.3" font-size="8.5" textLength="11.2" lengthAdjust="spacingAndGlyphs">150</text>
<line x1="304.1" y1="289.0" x2="306.1" y2="289.0" stroke="#333" stroke-width="0.4"/>
<text filter="url(#gs)" class="t" x="289.8" y="316.8" font-size="8.5" textLength="11.2" lengthAdjust="spacingAndGlyphs">200</text>
<line x1="304.1" y1="313.5" x2="306.1" y2="313.5" stroke="#333" stroke-width="0.4"/>
<text filter="url(#gs)" class="t" x="289.8" y="341.3" font-size="8.5" textLength="11.2" lengthAdjust="spacingAndGlyphs">250</text>
<line x1="304.1" y1="338.0" x2="306.1" y2="338.0" stroke="#333" stroke-width="0.4"/>
<text filter="url(#gs)" class="t" x="289.8" y="365.8" font-size="8.5" textLength="11.2" lengthAdjust="spacingAndGlyphs">300</text>
<line x1="304.1" y1="362.5" x2="306.1" y2="362.5" stroke="#333" stroke-width="0.4"/>
<text filter="url(#gs)" class="t" x="289.8" y="390.3" font-size="8.5" textLength="11.2" lengthAdjust="spacingAndGlyphs">350</text>
<line x1="304.1" y1="387.0" x2="306.1" y2="387.0" stroke="#333" stroke-width="0.4"/>
<text filter="url(#gs)" class="t" x="289.8" y="414.8" font-size="8.5" textLength="11.2" lengthAdjust="spacingAndGlyphs">400</text>
<line x1="304.1" y1="411.5" x2="306.1" y2="411.5" stroke="#333" stroke-width="0.4"/>
<text filter="url(#gs)" class="t" x="350.3" y="423.1" font-size="8.5" textLength="7.0" lengthAdjust="spacingAndGlyphs">50</text>
<line x1="353.5" y1="411.9" x2="353.5" y2="409.9" stroke="#333" stroke-width="0.4"/>
<line x1="353.5" y1="220.5" x2="353.5" y2="222.5" stroke="#333" stroke-width="0.4"/>
<text filter="url(#gs)" class="t" x="398.5" y="423.1" font-size="8.5" textLength="11.2" lengthAdjust="spacingAndGlyphs">100</text>
<line x1="403.8" y1="411.9" x2="403.8" y2="409.9" stroke="#333" stroke-width="0.4"/>
<line x1="403.8" y1="220.5" x2="403.8" y2="222.5" stroke="#333" stroke-width="0.4"/>
<text filter="url(#gs)" class="t" x="448.9" y="423.1" font-size="8.5" textLength="11.2" lengthAdjust="spacingAndGlyphs">150</text>
<line x1="454.2" y1="411.9" x2="454.2" y2="409.9" stroke="#333" stroke-width="0.4"/>
<line x1="454.2" y1="220.5" x2="454.2" y2="222.5" stroke="#333" stroke-width="0.4"/>
<text filter="url(#gs)" class="t" x="499.2" y="423.1" font-size="8.5" textLength="11.2" lengthAdjust="spacingAndGlyphs">200</text>
<line x1="504.5" y1="411.9" x2="504.5" y2="409.9" stroke="#333" stroke-width="0.4"/>
<line x1="504.5" y1="220.5" x2="504.5" y2="222.5" stroke="#333" stroke-width="0.4"/>
<text filter="url(#gs)" class="s" x="405.0" y="432.0" font-size="7.2" textLength="40.5" lengthAdjust="spacingAndGlyphs" fill="#3a3a3a">Time(minute)</text>
<text filter="url(#gs)" class="s" transform="translate(284.1,316.4) rotate(-90)" x="0" y="0" font-size="6.9" fill="#3a3a3a" text-anchor="middle" textLength="29.0" lengthAdjust="spacingAndGlyphs">Depth(m)</text>
<text filter="url(#gs)" class="s" x="281.0" y="227.0" font-size="9.5" font-weight="bold" fill="#111">D.</text>
</svg></body></html>
